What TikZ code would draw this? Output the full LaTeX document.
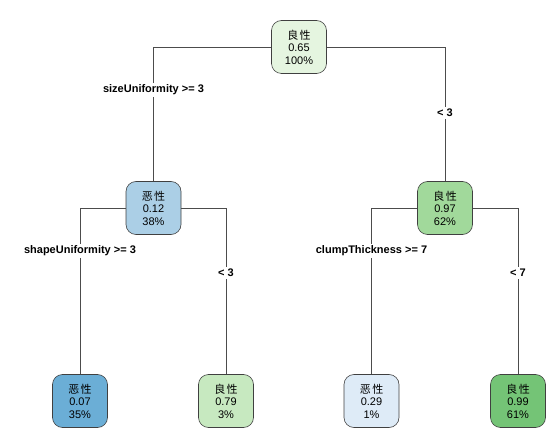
\documentclass[tikz,border=0pt]{standalone}
\usepackage{fontspec}
\setmainfont{Liberation Sans}
\newfontfamily\cjk{Noto Sans CJK SC}
\newcommand{\lx}{{\cjk 良\hspace{1.5pt}性}}
\newcommand{\ex}{{\cjk 恶\hspace{1.5pt}性}}
\begin{document}
\begin{tikzpicture}[x=1pt,y=-1pt,
  tnode/.style={draw=black!75, line width=0.6pt, rounded corners=10pt, minimum width=55pt, minimum height=53pt, align=center, inner sep=0pt, font=\fontsize{11}{12.5}\selectfont},
  edge/.style={draw=black!70, line width=0.6pt},
  lab/.style={fill=white, inner sep=2pt, font=\bfseries\fontsize{11}{12}\selectfont}]
\useasboundingbox (0,0) rectangle (554,430);
\definecolor{cA}{HTML}{E5F5E0}
\definecolor{cB}{HTML}{ABCFE6}
\definecolor{cC}{HTML}{A1D99B}
\definecolor{cD}{HTML}{6BAED6}
\definecolor{cE}{HTML}{C7E9C0}
\definecolor{cF}{HTML}{DEEBF7}
\definecolor{cG}{HTML}{74C476}
% nodes
\node[tnode, fill=cA] (root) at (299,47) {\lx\\0.65\\100\%};
\node[tnode, fill=cB] (l) at (153.5,208) {\ex\\0.12\\38\%};
\node[tnode, fill=cC] (r) at (445,208) {\lx\\0.97\\62\%};
\node[tnode, fill=cD] (ll) at (80,401) {\ex\\0.07\\35\%};
\node[tnode, fill=cE] (lr) at (226,401) {\lx\\0.79\\3\%};
\node[tnode, fill=cF] (rl) at (371.5,401) {\ex\\0.29\\1\%};
\node[tnode, fill=cG] (rr) at (518,401) {\lx\\0.99\\61\%};
% connectors
\draw[edge] (root.west) -| (l.north);
\draw[edge] (root.east) -| (r.north);
\draw[edge] (l.west) -| (ll.north);
\draw[edge] (l.east) -| (lr.north);
\draw[edge] (r.west) -| (rl.north);
\draw[edge] (r.east) -| (rr.north);
% labels
\node[lab] (t1) at (153.5,90) {sizeUniformity >= 3};
\node[lab] (t2) at (445,113) {< 3};
\node[lab] (t3) at (80,251) {shapeUniformity >= 3};
\node[lab] (t4) at (226,273) {< 3};
\node[lab] (t5) at (371.5,251) {clumpThickness >= 7};
\node[lab] (t6) at (518,273) {< 7};
\end{tikzpicture}
\end{document}
